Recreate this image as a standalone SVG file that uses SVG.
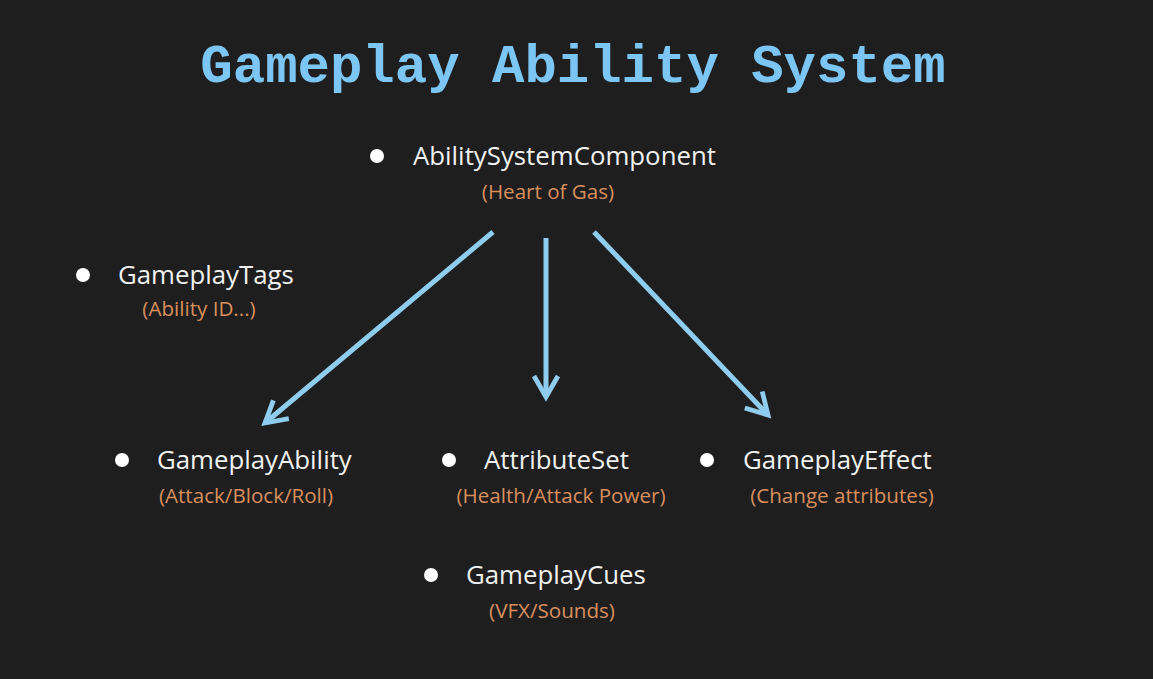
<svg xmlns="http://www.w3.org/2000/svg" width="1153" height="679" viewBox="0 0 1153 679">
<style>
.t{font-family:"Open Sans","Noto Sans",sans-serif;font-size:25.8px;fill:#f2f2f2}
.s{font-family:"Open Sans","Noto Sans",sans-serif;font-size:20.6px;fill:#d98f5c;text-anchor:middle}
.d{fill:#ffffff}
.a{stroke:#8fcdf0;stroke-width:5;fill:none;marker-end:url(#ah)}
</style>
<defs><marker id="ah" viewBox="0 0 10 10" refX="8" refY="5" markerWidth="6" markerHeight="6" orient="auto" markerUnits="strokeWidth"><path d="M1,1 L8,5 L1,9" fill="none" stroke="#8fcdf0" stroke-width="1.6"/></marker></defs>
<rect width="1153" height="679" fill="#1e1e1e"/>
<text x="573" y="82" text-anchor="middle" font-family="Liberation Mono,monospace" font-weight="bold" font-size="54" fill="#7cc6f6">Gameplay Ability System</text>
<g id="asc"><circle class="d" cx="377" cy="156" r="7"/><text class="t" x="413" y="165">AbilitySystemComponent</text><text class="s" x="548" y="199">(Heart of Gas)</text></g>
<g id="tags"><circle class="d" cx="83" cy="275" r="7"/><text class="t" x="118" y="284">GameplayTags</text><text class="s" x="199" y="316">(Ability ID...)</text></g>
<g id="ability"><circle class="d" cx="122" cy="460" r="7"/><text class="t" x="157" y="469">GameplayAbility</text><text class="s" x="246" y="503">(Attack/Block/Roll)</text></g>
<g id="attr"><circle class="d" cx="449" cy="460" r="7"/><text class="t" x="484" y="469">AttributeSet</text><text class="s" x="561" y="503">(Health/Attack Power)</text></g>
<g id="effect"><circle class="d" cx="707" cy="460" r="7"/><text class="t" x="743" y="469">GameplayEffect</text><text class="s" x="842" y="503">(Change attributes)</text></g>
<g id="cues"><circle class="d" cx="431" cy="575" r="7"/><text class="t" x="466" y="584">GameplayCues</text><text class="s" x="552" y="618">(VFX/Sounds)</text></g>
<g id="connectors">
<line class="a" x1="493" y1="232" x2="265" y2="423"/>
<line class="a" x1="546" y1="238" x2="546" y2="397"/>
<line class="a" x1="594" y1="232" x2="768" y2="415"/>
</g>
</svg>
